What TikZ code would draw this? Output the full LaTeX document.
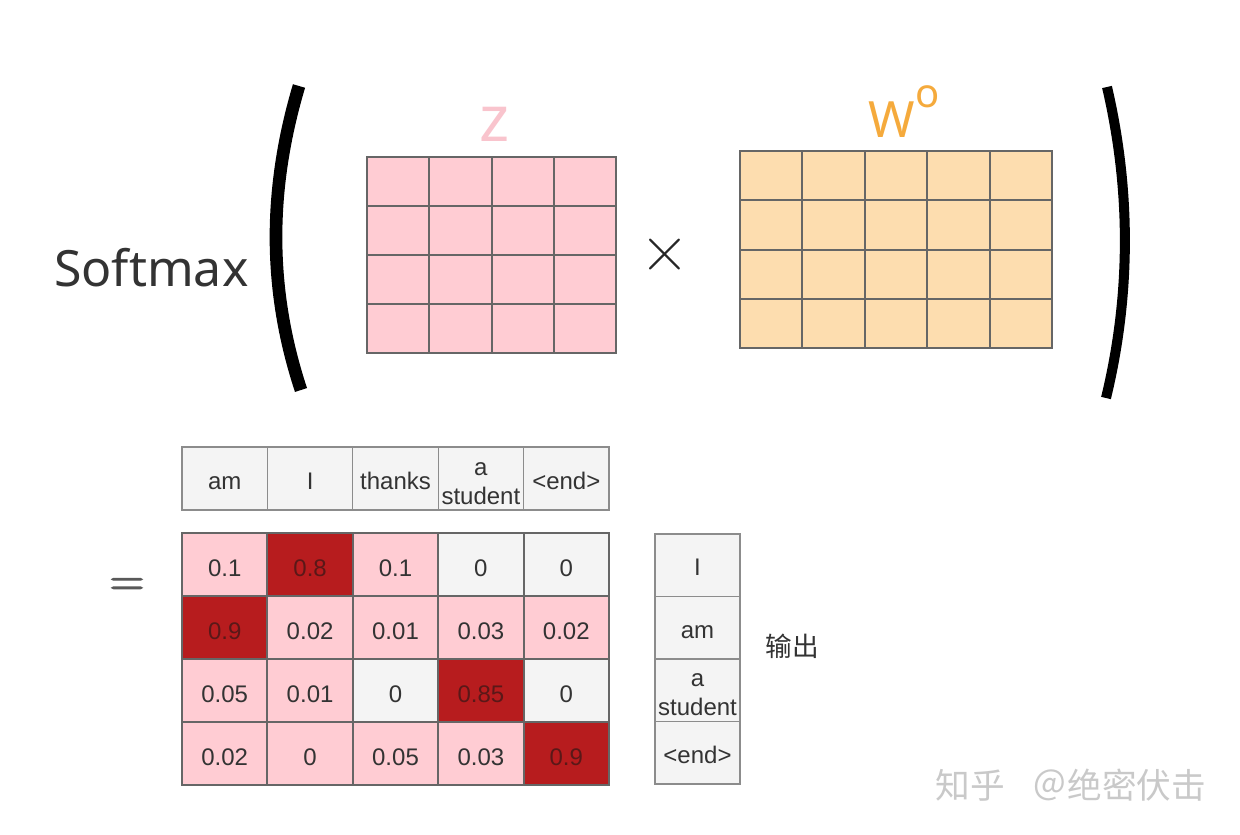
\documentclass[tikz,border=0pt]{standalone}
\usepackage{fontspec}
\setmainfont{Liberation Sans}
\newfontfamily\noto{Noto Sans}
\newfontfamily\lmr{Latin Modern Roman}
\newfontfamily\lmrb[FakeBold=2.5]{Latin Modern Roman}
\newfontfamily\cjk{Noto Sans CJK SC}
\definecolor{pinkc}{HTML}{FFCCD3}
\definecolor{redc}{HTML}{B71C1E}
\definecolor{grayc}{HTML}{F4F4F4}
\definecolor{peachc}{HTML}{FDDDAF}
\definecolor{gridc}{HTML}{666666}
\definecolor{thinc}{HTML}{8C8C8C}
\definecolor{txtc}{HTML}{333333}
\definecolor{redtxt}{HTML}{5A1818}
\definecolor{zlabc}{HTML}{F9C4CD}
\definecolor{wlabc}{HTML}{F5AA3C}
\definecolor{wmc}{HTML}{C9C9C9}
% cell text: a centred stack, lowered by #1 (height grows, depth shrinks)
\newcommand\celltx[2]{\raisebox{0pt}[\dimexpr\height+#1\relax][\dimexpr\depth-#1\relax]{\begin{tabular}{@{}c@{}}#2\end{tabular}}}
\begin{document}
\begin{tikzpicture}[x=0.75pt,y=-0.75pt,
  tabfont/.style={font=\fontsize{18}{21.75}\selectfont, text=txtc},
  zcell/.style={draw=gridc, line width=1.5pt, fill=pinkc, inner sep=0pt, outer sep=0pt,
    minimum width=62.25*0.75pt, minimum height=49*0.75pt},
  wcell/.style={draw=gridc, line width=1.5pt, fill=peachc, inner sep=0pt, outer sep=0pt,
    minimum width=62.4*0.75pt, minimum height=49.25*0.75pt},
  hcell/.style={draw=thinc, line width=0.8pt, fill=grayc, inner sep=0pt, outer sep=0pt,
    minimum width=85.4*0.75pt, minimum height=63*0.75pt, tabfont},
  ocell/.style={draw=thinc, line width=0.8pt, fill=grayc, inner sep=0pt, outer sep=0pt,
    minimum width=85*0.75pt, minimum height=62.5*0.75pt, tabfont},
  mcell/.style={draw=gridc, line width=1.5pt, inner sep=0pt, outer sep=0pt,
    minimum width=85.4*0.75pt, minimum height=63*0.75pt, tabfont},
  pcell/.style={mcell, fill=pinkc},
  rcell/.style={mcell, fill=redc, text=redtxt},
  gcell/.style={mcell, fill=grayc},
  paren/.style={line width=9.5pt, black},
]
\useasboundingbox (0,0) rectangle (1240,835);
\fill[white] (0,0) rectangle (1240,835);

% Softmax
\node[font=\noto\fontsize{37.5}{40}\selectfont, text=txtc, anchor=base west, inner sep=0pt] (softmax) at (54,286) {Softmax};

% parentheses
\draw[paren] (299,86) .. controls (268,190) and (268,290) .. (301,390);
\draw[paren, line width=7.5pt] (1107,87) .. controls (1131,190) and (1131,295) .. (1106,398);

% z matrix
\node[font=\noto\fontsize{48}{48}\selectfont, text=zlabc, inner sep=0pt] (zlab) at (495,124) {z};
\foreach \i in {0,...,3}
  \foreach \j in {0,...,3}
    \node[zcell] (z-\i-\j) at ({367+62.25*(\j+0.5)},{157+49*(\i+0.5)}) {};

% times
\node[font=\lmr\fontsize{51}{51}\selectfont, text=black!85, inner sep=0pt] (times) at (665,255) {×};

% W matrix
\node[font=\noto\fontsize{37.5}{40}\selectfont, text=wlabc, inner sep=0pt] (wlab) at (892,120) {W};
\node[font=\noto\fontsize{30}{30}\selectfont, text=wlabc, inner sep=0pt] (wsup) at (928,97) {o};
\foreach \i in {0,...,3}
  \foreach \j in {0,...,4}
    \node[wcell] (w-\i-\j) at ({740+62.4*(\j+0.5)},{151+49.25*(\i+0.5)}) {};

% equals
\node[font=\lmrb\fontsize{36}{38}\selectfont, text=black!65, inner sep=0pt] (eq) at (127,587) {=};

% header row
\foreach \j/\t in {0/am, 1/I, 2/thanks, 3/{a\\student}, 4/{<end>}}
  \node[hcell] (h-\j) at ({182+85.4*(\j+0.5)},478.5) {\celltx{4.2pt}{\t}};

% main table
\foreach \j/\v/\s in {0/0.1/pcell, 1/0.8/rcell, 2/0.1/pcell, 3/0/gcell, 4/0/gcell}
  \node[\s] (m-0-\j) at ({182+85.4*(\j+0.5)},{533+63*0.5}) {\celltx{4.6pt}{\v}};
\foreach \j/\v/\s in {0/0.9/rcell, 1/0.02/pcell, 2/0.01/pcell, 3/0.03/pcell, 4/0.02/pcell}
  \node[\s] (m-1-\j) at ({182+85.4*(\j+0.5)},{533+63*1.5}) {\celltx{4.6pt}{\v}};
\foreach \j/\v/\s in {0/0.05/pcell, 1/0.01/pcell, 2/0/gcell, 3/0.85/rcell, 4/0/gcell}
  \node[\s] (m-2-\j) at ({182+85.4*(\j+0.5)},{533+63*2.5}) {\celltx{4.6pt}{\v}};
\foreach \j/\v/\s in {0/0.02/pcell, 1/0/pcell, 2/0.05/pcell, 3/0.03/pcell, 4/0.9/rcell}
  \node[\s] (m-3-\j) at ({182+85.4*(\j+0.5)},{533+63*3.5}) {\celltx{4.6pt}{\v}};

% output column
\foreach \i/\t in {0/I, 1/am, 2/{a\\student}, 3/{<end>}}
  \node[ocell] (o-\i) at (697.5,{534+62.5*(\i+0.5)}) {\celltx{3.6pt}{\t}};
\node[font=\cjk\fontsize{20}{22}\selectfont, text=txtc, inner sep=0pt] (outlab) at (792,646) {输出};

% watermark
\node[font=\cjk\fontsize{26}{28}\selectfont, text=wmc, inner sep=0pt] (wm) at (1071,785) {知乎\hspace{0.8em}＠绝密伏击};
\end{tikzpicture}
\end{document}
